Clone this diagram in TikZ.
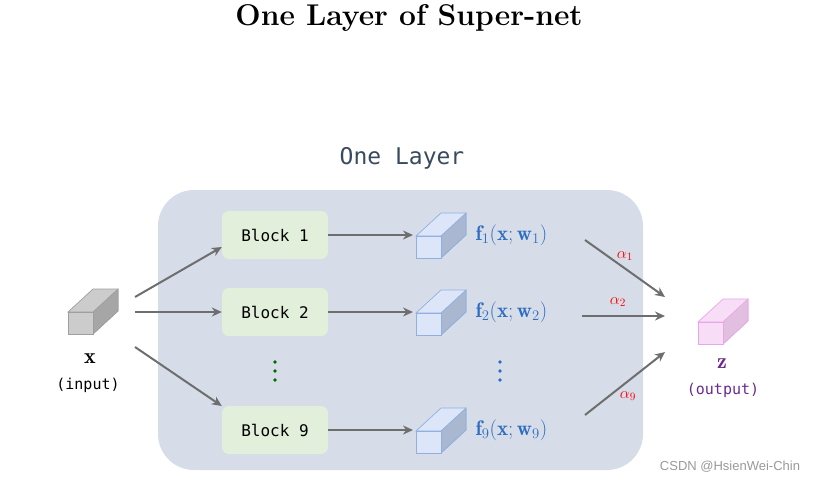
\RequirePackage{fix-cm}
\documentclass[tikz,border=0pt]{standalone}
\usepackage{amsmath}
\usepackage{fontspec}
\newfontfamily\monof{DejaVu Sans Mono}
\newfontfamily\wmf{Liberation Sans}
\usetikzlibrary{arrows.meta}
\definecolor{bgc}{HTML}{D6DDE8}
\definecolor{blk}{HTML}{E2EFDA}
\definecolor{fblue}{HTML}{2E6CC0}
\definecolor{zpur}{HTML}{6A2A90}
\definecolor{arr}{HTML}{6E6E6E}
\definecolor{ttl}{HTML}{3A4A5E}
\definecolor{cbF}{HTML}{DCE6F8}
\definecolor{cbS}{HTML}{A9B7D0}
\definecolor{cbE}{HTML}{8FB0E0}
\definecolor{cpF}{HTML}{F8DDF6}
\definecolor{cpS}{HTML}{E2BFE0}
\definecolor{cpE}{HTML}{E6A8E6}
\tikzset{
 x=1pt,y=-1pt,
 conn/.style={draw=arr,line width=2pt,-{Stealth[length=10pt,width=9pt]}},
 block/.style={fill=blk,rounded corners=7pt,minimum width=106pt,minimum height=48pt,font=\monof\fontsize{16}{16}\selectfont},
 lab/.style={font=\fontsize{21}{21}\selectfont,text=fblue},
 alab/.style={text=red,font=\fontsize{16}{16}\selectfont},
 pics/cube/.style n args={3}{code={
  \fill[#1,draw=#2,line width=0.7pt] (-12,-11)--(13,-34)--(38,-34)--(38,-12)--(13,11)--(13,-11)--cycle;
  \fill[#3,draw=#2,line width=0.7pt] (13,-11)--(38,-34)--(38,-12)--(13,11)--cycle;
  \fill[#1,draw=#2,line width=0.7pt] (-12,-11) rectangle (13,11);
 }}
}
\begin{document}
\begin{tikzpicture}
\useasboundingbox (0,0) rectangle (818,485);
\node (title) at (409,18) {\fontsize{30}{30}\selectfont\bfseries One Layer of Super-net};
\node[text=ttl,font=\monof\fontsize{23}{23}\selectfont] (ol) at (402,158) {One Layer};
\fill[bgc,rounded corners=36pt] (158,190) rectangle (643,470);
\node[block] (b1) at (275,235) {Block 1};
\node[block] (b2) at (275,312) {Block 2};
\node[block] (b9) at (275,430) {Block 9};
\foreach \yy in {362,371,380}{\fill[green!40!black] (275,\yy) circle (1.9pt);}
\foreach \yy in {362,371,380}{\fill[fblue] (500,\yy) circle (1.9pt);}
% input
\pic at (80,323) {cube={gray!40}{gray!75}{gray!70}};
\coordinate (xin) at (92,312);
\node[font=\fontsize{22}{22}\selectfont] (xl) at (90,359) {$\mathbf{x}$};
\node[font=\monof\fontsize{15}{15}\selectfont] (xi) at (88,385) {(input)};
% blue cubes
\foreach \n/\yy in {1/235,2/312,9/430}{
  \pic at (428,\yy+12) {cube={cbF}{cbE}{cbS}};
  \coordinate (c\n) at (413,\yy);
  \node[lab,anchor=west] (f\n) at (472,\yy) {$\mathbf{f}_{\n}(\mathbf{x};\mathbf{w}_{\n})$};
}
% output cube
\pic at (710,333) {cube={cpF}{cpE}{cpS}};
\coordinate (zin) at (667,316);
\node[font=\fontsize{22}{22}\selectfont,text=zpur] (zl) at (722,364) {$\mathbf{z}$};
\node[font=\monof\fontsize{15}{15}\selectfont,text=zpur] (zo) at (723,390) {(output)};
% arrows
\coordinate (s1) at (135,297); \coordinate (s2) at (135,312); \coordinate (s9) at (135,347);
\draw[conn] (s1) -- (b1.west|-0,247);
\draw[conn] (s2) -- (b2.west);
\draw[conn] (s9) -- (b9.west|-0,406);
\draw[conn] (b1.east) -- (c1);
\draw[conn] (b2.east) -- (c2);
\draw[conn] (b9.east) -- (c9);
\coordinate (t1) at (665,297); \coordinate (t9) at (665,352);
\coordinate (e1) at (585,240); \coordinate (e2) at (582,316); \coordinate (e9) at (585,415);
\draw[conn] (e1) -- (t1);
\draw[conn] (e2) -- (zin -| t1);
\draw[conn] (e9) -- (t9);
\node[alab] (a1) at (625,256) {$\alpha_1$};
\node[alab] (a2) at (618,302) {$\alpha_2$};
\node[alab] (a9) at (628,396) {$\alpha_9$};
\node[text=gray!80,font=\wmf\fontsize{13}{13}\selectfont] (wm) at (730,467) {CSDN @HsienWei-Chin};
\end{tikzpicture}
\end{document}
